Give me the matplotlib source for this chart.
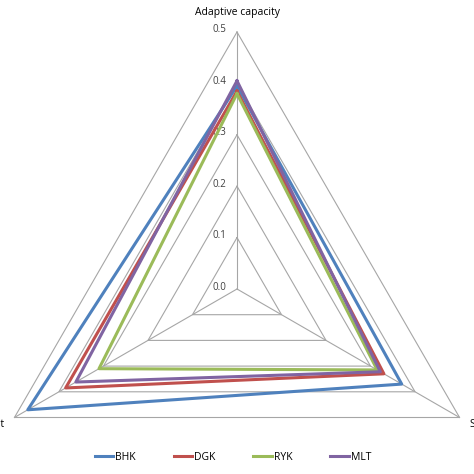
"""
Radar chart of vulnerability components for four districts.
Saves out.png (474x474).
"""

import numpy as np
import matplotlib
import matplotlib.pyplot as plt

matplotlib.rcParams.update({
    'font.family': ['Open Sans', 'DejaVu Sans'],
    'font.size': 7.5,
})

CATEGORIES = ["Adaptive capacity", "Sensitivity", "Exposure to drought"]
DISTRICTS = ["BHK", "DGK", "RYK", "MLT"]

# values per category, in CATEGORIES order
BHK = [0.395, 0.370, 0.470]
DGK = [0.385, 0.330, 0.385]
RYK = [0.380, 0.315, 0.310]
MLT = [0.405, 0.322, 0.362]

LEVELS = [0.0, 0.1, 0.2, 0.3, 0.4, 0.5]
LEVEL_LABELS = ["0.0", "0.1", "0.2", "0.3", "0.4", "0.5"]

COLORS = ["#4F81BD", "#C0504D", "#9BBB59", "#8064A2"]
GRID = "#a6a6a6"

W = H = 474
fig = plt.figure(figsize=(W / 100, H / 100), dpi=100)

# centre of the radar at (237, 289) px, radius of 0.5 = 257 px
cx, cy, R = 237, 289, 257
ax = fig.add_axes([(cx - R) / W, (H - cy - R) / H, 2 * R / W, 2 * R / H],
                  projection="polar")
ax.set_theta_offset(np.pi / 2)
ax.set_theta_direction(-1)
ax.set_ylim(0, 0.5)
ax.set_axis_off()

theta = np.linspace(0, 2 * np.pi, len(CATEGORIES), endpoint=False)
theta_closed = np.append(theta, theta[0])

# triangular grid + spokes
for lv in LEVELS[1:]:
    ax.plot(theta_closed, [lv] * len(theta_closed), color=GRID, lw=0.8,
            zorder=1, clip_on=False)
for t in theta:
    ax.plot([t, t], [0, LEVELS[-1]], color=GRID, lw=0.8, zorder=1,
            clip_on=False)

# radial tick labels next to the top spoke
for lv, lab in zip(LEVELS, LEVEL_LABELS):
    ax.annotate(lab, (0, lv), xytext=(-11, 2), textcoords="offset pixels",
                ha="right", va="center", fontsize=7, color="#404040",
                annotation_clip=False)

# series
for name, vals, color in zip(DISTRICTS, [BHK, DGK, RYK, MLT], COLORS):
    ax.plot(theta_closed, vals + vals[:1], color=color, lw=2.2, label=name,
            zorder=3, clip_on=False)

# category labels
ax.annotate(CATEGORIES[0], (theta[0], 0.5), xytext=(0, 20),
            textcoords="offset pixels", ha="center", va="center",
            fontsize=7.5, annotation_clip=False)
ax.annotate(CATEGORIES[1], (theta[1], 0.5), xytext=(10, -7),
            textcoords="offset pixels", ha="left", va="center",
            fontsize=7.5, annotation_clip=False)
ax.annotate(CATEGORIES[2], (theta[2], 0.5), xytext=(-10, -7),
            textcoords="offset pixels", ha="right", va="center",
            fontsize=7.5, annotation_clip=False)

fig.legend(loc="center", bbox_to_anchor=(233 / W, 1 - 457 / H), ncol=4,
           frameon=False, fontsize=7.5, handlelength=1.8, handletextpad=0.2,
           columnspacing=3.6)

fig.savefig("out.png", dpi=100)
